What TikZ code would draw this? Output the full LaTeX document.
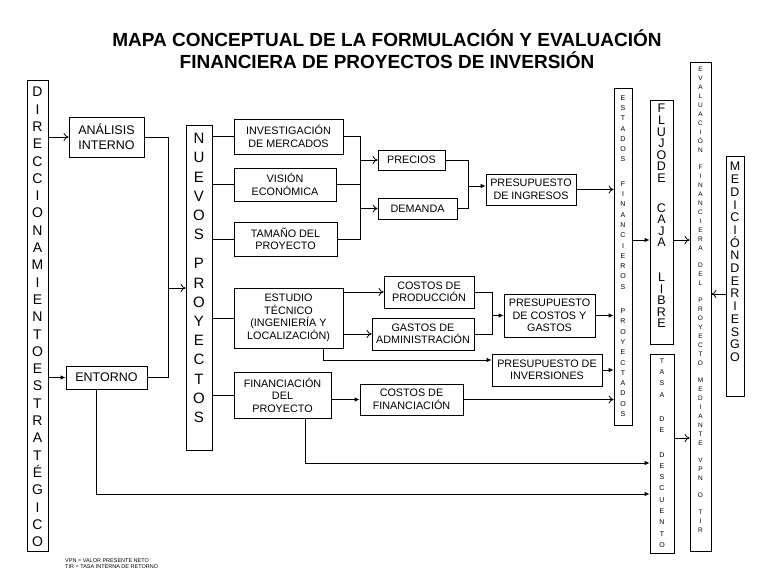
\documentclass[tikz,border=0pt]{standalone}
\usepackage{fontspec}
\setmainfont{Liberation Sans}
\usetikzlibrary{arrows.meta,calc}
\begin{document}
\begin{tikzpicture}[x=1pt,y=-1pt,
  bx/.style={draw,line width=0.8pt,inner sep=0pt,align=center,font=\fontsize{10.8}{12.5}\selectfont},
  vb/.style={draw,line width=0.8pt,inner sep=0pt},
  vt/.style={inner sep=0pt,align=center},
  oa/.style={-{To[length=5pt,width=8pt]},line width=0.8pt},
  fa/.style={-{Latex[length=5pt,width=4.5pt]},line width=0.8pt},
  ln/.style={line width=0.8pt}]
\useasboundingbox (0,0) rectangle (768,576);
\node[font=\bfseries\fontsize{19}{21}\selectfont] (t1) at (387,38) {MAPA CONCEPTUAL DE LA FORMULACIÓN Y EVALUACIÓN};
\node[font=\bfseries\fontsize{19}{21}\selectfont] (t2) at (387,60) {FINANCIERA DE PROYECTOS DE INVERSIÓN};
\node[anchor=west,font=\fontsize{5.5}{6}\selectfont,inner sep=0pt] (f1) at (65,561) {VPN = VALOR PRESENTE NETO};
\node[anchor=west,font=\fontsize{5.5}{6}\selectfont,inner sep=0pt] (f2) at (65,567) {TIR = TASA INTERNA DE RETORNO};

% vertical boxes
\node[vb,minimum width=21,minimum height=471] (dir) at (37.5,315.5) {};
\node[vt,font=\fontsize{14}{17.3}\selectfont] (dirt) at (37.5,317) {D\\I\\R\\E\\C\\C\\I\\O\\N\\A\\M\\I\\E\\N\\T\\O\\E\\S\\T\\R\\A\\T\\É\\G\\I\\C\\O};
\node[vb,minimum width=26,minimum height=325] (np) at (199,287.5) {};
\node[vt,font=\fontsize{15}{19.2}\selectfont] (npt) at (199,278) {N\\U\\E\\V\\O\\S\\[10pt]P\\R\\O\\Y\\E\\C\\T\\O\\S};
\node[vb,minimum width=18,minimum height=337] (efp) at (623,256.5) {};
\node[vt,font=\fontsize{7}{10.3}\selectfont] (efpt) at (623,256) {E\\S\\T\\A\\D\\O\\S\\[14pt]F\\I\\N\\A\\N\\C\\I\\E\\R\\O\\S\\[14pt]P\\R\\O\\Y\\E\\C\\T\\A\\D\\O\\S};
\node[vb,minimum width=23,minimum height=244] (fcl) at (661.5,222) {};
\node[vt,font=\fontsize{12.5}{11.6}\selectfont] (fclt) at (661.5,216) {F\\L\\U\\J\\O\\D\\E\\[18pt]C\\A\\J\\A\\[23pt]L\\I\\B\\R\\E};
\node[vb,minimum width=24,minimum height=199] (tas) at (662,453.5) {};
\node[vt,font=\fontsize{7}{11.3}\selectfont] (tast) at (662,453) {T\\A\\S\\A\\[13pt]D\\E\\[13pt]D\\E\\S\\C\\U\\E\\N\\T\\O};
\node[vb,minimum width=21,minimum height=489] (eval) at (700.5,306.5) {};
\node[vt,font=\fontsize{6.5}{9}\selectfont] (evalt) at (700.5,300) {E\\V\\A\\L\\U\\A\\C\\I\\Ó\\N\\[8pt]F\\I\\N\\A\\N\\C\\I\\E\\R\\A\\[8pt]D\\E\\L\\[8pt]P\\R\\O\\Y\\E\\C\\T\\O\\[8pt]M\\E\\D\\I\\A\\N\\T\\E\\[8pt]V\\P\\N\\[8pt]O\\[8pt]T\\I\\R};
\node[vb,minimum width=18,minimum height=240] (med) at (735,276) {};
\node[vt,font=\fontsize{12.5}{12.7}\selectfont] (medt) at (735,262) {M\\E\\D\\I\\C\\I\\Ó\\N\\D\\E\\R\\I\\E\\S\\G\\O};

% boxes
\node[bx,font=\fontsize{12.5}{15}\selectfont,minimum width=75,minimum height=40] (ai) at (106.5,137) {ANÁLISIS\\INTERNO};
\node[bx,font=\fontsize{12.5}{15}\selectfont,minimum width=81,minimum height=23] (en) at (106.5,377.5) {ENTORNO};
\node[bx,minimum width=109,minimum height=35] (inv) at (288.5,136.5) {INVESTIGACIÓN\\DE MERCADOS};
\node[bx,minimum width=102,minimum height=33] (vis) at (285,184.5) {VISIÓN\\ECONÓMICA};
\node[bx,minimum width=103,minimum height=34] (tam) at (285.5,239) {TAMAÑO DEL\\PROYECTO};
\node[bx,minimum width=109,minimum height=60] (est) at (288.5,318) {ESTUDIO\\TÉCNICO\\(INGENIERÍA Y\\LOCALIZACIÓN)};
\node[bx,minimum width=97,minimum height=46] (fin) at (282.5,395) {FINANCIACIÓN\\DEL\\PROYECTO};
\node[bx,minimum width=67,minimum height=20] (pre) at (411.5,160) {PRECIOS};
\node[bx,minimum width=79,minimum height=21] (dem) at (417.5,208.5) {DEMANDA};
\node[bx,minimum width=90,minimum height=31] (pin) at (531,189.5) {PRESUPUESTO\\DE INGRESOS};
\node[bx,minimum width=90,minimum height=32] (cp) at (429,292) {COSTOS DE\\PRODUCCIÓN};
\node[bx,minimum width=102,minimum height=32] (ga) at (423,334) {GASTOS DE\\ADMINISTRACIÓN};
\node[bx,minimum width=91,minimum height=43] (pcg) at (549.5,315.5) {PRESUPUESTO\\DE COSTOS Y\\GASTOS};
\node[bx,minimum width=110,minimum height=32] (pinv) at (547,370) {PRESUPUESTO DE\\INVERSIONES};
\node[bx,minimum width=103,minimum height=31] (cf) at (411.5,399.5) {COSTOS DE\\FINANCIACIÓN};

% connectors
\draw[oa] (dir.east|-ai.west) -- (ai.west);
\draw[fa] (dir.east|-en.west) -- (en.west);
\coordinate (m1) at (168,288);
\draw[ln] (ai.east) -| (m1);
\draw[ln] (en.east) -| (m1);
\draw[oa] (m1) -- (np.west|-m1);
\draw[ln] (np.east|-inv.west) -- (inv.west);
\draw[ln] (np.east|-vis.west) -- (vis.west);
\draw[ln] (np.east|-tam.west) -- (tam.west);
\draw[ln] (np.east|-est.west) -- (est.west);
\draw[ln] (np.east|-fin.west) -- (fin.west);
\coordinate (g1) at (360,239);
\draw[ln] (inv.east) -| (g1) -- (tam.east);
\draw[ln] (vis.east) -- (vis.east-|g1);
\coordinate (b1) at (360,160);
\coordinate (b2) at (360,208.5);
\draw[oa] (b1) -- (pre.west);
\draw[oa] (b2) -- (dem.west);
\coordinate (b3) at (468,186);
\draw[ln] (pre.east) -| (b3);
\draw[ln] (dem.east) -| (b3);
\draw[fa] (b3) -- (b3-|pin.west);
\draw[oa] (pin.east) -- (efp.west|-pin.east);
\draw[oa] (est.east|-cp.west) -- (cp.west);
\draw[oa] (est.east|-ga.west) -- (ga.west);
\coordinate (b4) at (492,315.5);
\draw[ln] (cp.east) -| (b4);
\draw[ln] (ga.east) -| (b4);
\draw[fa] (b4) -- (pcg.west);
\draw[fa] (pcg.east) -- (efp.west|-pcg.east);
\coordinate (b5) at (323,348);
\draw[fa] (b5) |- ($(pinv.west)+(0,-10)$);
\draw[fa] (pinv.east) -- (efp.west|-pinv.east);
\draw[fa] (fin.east|-cf.west) -- (cf.west);
\draw[oa] (cf.east) -- (efp.west|-cf.east);
\coordinate (b6) at (305,418);
\draw[fa] (b6) |- ($(tas.west)+(0,9.5)$);
\coordinate (b10) at (96,389);
\draw[fa] (b10) |- ($(tas.west)+(0,40.5)$);
\coordinate (b7) at (632,240);
\draw[fa] (b7) -- (b7-|fcl.west);
\draw[oa] (b7-|fcl.east) -- (b7-|eval.west);
\coordinate (b8) at (674,438);
\draw[oa] (b8) -- (b8-|eval.west);
\coordinate (b9) at (726,294);
\draw[oa] (b9) -- (b9-|eval.east);
\end{tikzpicture}
\end{document}
